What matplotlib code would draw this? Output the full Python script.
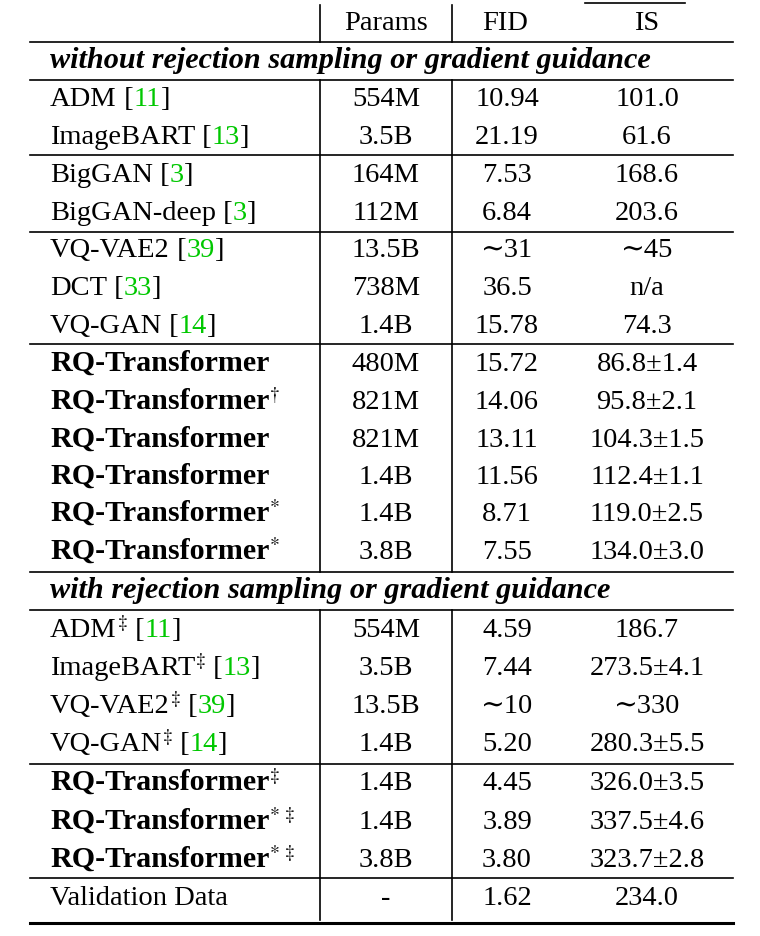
import matplotlib
matplotlib.use("Agg")
import matplotlib.pyplot as plt

plt.rcParams['font.family'] = ['Liberation Serif', 'DejaVu Serif']
plt.rcParams['mathtext.fontset'] = 'stix'

headers = ["Params", "FID", "IS"]
sections = ["without rejection sampling or gradient guidance",
            "with rejection sampling or gradient guidance"]
names = ["ADM", "ImageBART", "BigGAN", "BigGAN-deep", "VQ-VAE2", "DCT", "VQ-GAN",
         "RQ-Transformer", "RQ-Transformer", "RQ-Transformer", "RQ-Transformer",
         "RQ-Transformer", "RQ-Transformer",
         "ADM", "ImageBART", "VQ-VAE2", "VQ-GAN",
         "RQ-Transformer", "RQ-Transformer", "RQ-Transformer", "Validation Data"]
marks = ["", "", "", "", "", "", "", "", r"$^{\dagger}$", "", "", r"$^{*}$", r"$^{*}$",
         r"$^{\ddagger}$", r"$^{\ddagger}$", r"$^{\ddagger}$", r"$^{\ddagger}$",
         r"$^{\ddagger}$", r"$^{*\,\ddagger}$", r"$^{*\,\ddagger}$", ""]
cites = ["11", "13", "3", "3", "39", "33", "14", "", "", "", "", "", "",
         "11", "13", "39", "14", "", "", "", ""]
bold = [False]*7 + [True]*6 + [False]*4 + [True]*3 + [False]
params = ["554M", "3.5B", "164M", "112M", "13.5B", "738M", "1.4B",
          "480M", "821M", "821M", "1.4B", "1.4B", "3.8B",
          "554M", "3.5B", "13.5B", "1.4B", "1.4B", "1.4B", "3.8B", "-"]
fid = ["10.94", "21.19", "7.53", "6.84", "∼31", "36.5", "15.78",
       "15.72", "14.06", "13.11", "11.56", "8.71", "7.55",
       "4.59", "7.44", "∼10", "5.20", "4.45", "3.89", "3.80", "1.62"]
is_ = ["101.0", "61.6", "168.6", "203.6", "∼45", "n/a", "74.3",
       "86.8±1.4", "95.8±2.1", "104.3±1.5", "112.4±1.1", "119.0±2.5", "134.0±3.0",
       "186.7", "273.5±4.1", "∼330", "280.3±5.5",
       "326.0±3.5", "337.5±4.6", "323.7±2.8", "234.0"]

fig = plt.figure(figsize=(7.6, 9.36), dpi=100)
ax = fig.add_axes([0, 0, 1, 1])
ax.set_xlim(0, 760); ax.set_ylim(936, 0); ax.axis('off')
fs = 20.5
fsb = 21.6
green = '#00c800'
row_y = [98, 136, 174, 212, 249, 287, 325, 363, 401, 439, 476, 513, 551,
         629, 667, 705, 743, 782, 821, 859, 897]
off = 8
fig.canvas.draw()
r = fig.canvas.get_renderer()
inv = ax.transData.inverted()

def width(t):
    bb = t.get_window_extent(renderer=r)
    p0 = inv.transform((bb.x0, bb.y0)); p1 = inv.transform((bb.x1, bb.y0))
    return p1[0] - p0[0]

def seq(x, y, pieces):
    for s, c, w in pieces:
        if not s:
            continue
        t = ax.text(x, y, s, fontsize=fsb if w == 'bold' else fs, color=c,
                    fontweight=w, va='baseline', ha='left')
        x += width(t)

for h, x in zip(headers, [386, 505, 647]):
    ax.text(x, 22 + off, h, fontsize=fs, ha='center', va='baseline')
for s, y in zip(sections, [60, 590]):
    ax.text(50, y + off, s, fontsize=21.8, fontweight='bold', style='italic', va='baseline')

for i, y in enumerate(row_y):
    b = 'bold' if bold[i] else 'normal'
    pieces = [(names[i], 'black', b), (marks[i], 'black', 'normal')]
    if cites[i]:
        pieces += [(" [", 'black', 'normal'), (cites[i], green, 'normal'), ("]", 'black', 'normal')]
    seq(50, y + off, pieces)
    ax.text(386, y + off, params[i], fontsize=fs, ha='center', va='baseline')
    ax.text(507, y + off, fid[i], fontsize=fs, ha='center', va='baseline')
    ax.text(647, y + off, is_[i], fontsize=fs, ha='center', va='baseline')

for y in [42, 80, 155, 232, 344, 572, 610, 764, 878]:
    ax.plot([30, 733], [y, y], color='black', lw=1.2)
ax.plot([30, 733], [923, 923], color='black', lw=2.2)
ax.plot([585, 685], [3, 3], color='black', lw=1.2)
for x in [320, 452]:
    ax.plot([x, x], [5, 42], color='black', lw=1.2)
    ax.plot([x, x], [80, 572], color='black', lw=1.2)
    ax.plot([x, x], [610, 920], color='black', lw=1.2)

fig.savefig("out.png", dpi=100)
